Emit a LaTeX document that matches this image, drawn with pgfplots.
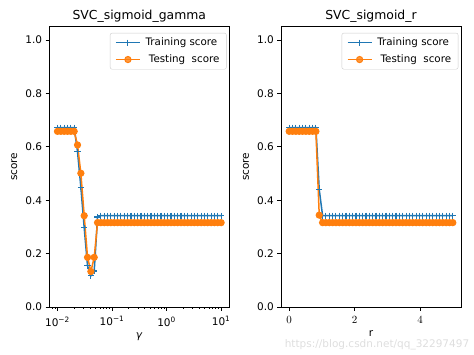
\documentclass[border=0pt]{standalone}
\usepackage{fontspec}
\setmainfont{DejaVu Sans}
\usepackage{pgfplots}
\usepackage{pgfplotstable}
\pgfplotsset{compat=1.18}
\definecolor{tabblue}{HTML}{1F77B4}
\definecolor{taborange}{HTML}{FF7F0E}

\pgfplotstableread{
x train test
0.010000 0.672 0.658
0.011514 0.672 0.658
0.013257 0.672 0.658
0.015264 0.672 0.658
0.017575 0.672 0.658
0.020236 0.672 0.658
0.023300 0.582 0.607
0.026827 0.449 0.501
0.030888 0.297 0.342
0.035565 0.154 0.186
0.040949 0.117 0.133
0.047149 0.135 0.186
0.054287 0.337 0.316
0.062506 0.342 0.316
0.071969 0.342 0.316
0.082864 0.342 0.316
0.095410 0.342 0.316
0.109854 0.342 0.316
0.126486 0.342 0.316
0.145635 0.342 0.316
0.167683 0.342 0.316
0.193070 0.342 0.316
0.222300 0.342 0.316
0.255955 0.342 0.316
0.294705 0.342 0.316
0.339322 0.342 0.316
0.390694 0.342 0.316
0.449843 0.342 0.316
0.517947 0.342 0.316
0.596362 0.342 0.316
0.686649 0.342 0.316
0.790604 0.342 0.316
0.910298 0.342 0.316
1.048113 0.342 0.316
1.206793 0.342 0.316
1.389495 0.342 0.316
1.599859 0.342 0.316
1.842070 0.342 0.316
2.120951 0.342 0.316
2.442053 0.342 0.316
2.811769 0.342 0.316
3.237458 0.342 0.316
3.727594 0.342 0.316
4.291934 0.342 0.316
4.941713 0.342 0.316
5.689866 0.342 0.316
6.551286 0.342 0.316
7.543120 0.342 0.316
8.685114 0.342 0.316
10.000000 0.342 0.316
}\gammadata

\pgfplotstableread{
x train test
0.00000 0.672 0.658
0.10204 0.672 0.658
0.20408 0.672 0.658
0.30612 0.672 0.658
0.40816 0.672 0.658
0.51020 0.672 0.658
0.61224 0.672 0.658
0.71429 0.672 0.658
0.81633 0.672 0.658
0.91837 0.440 0.344
1.02041 0.342 0.316
1.12245 0.342 0.316
1.22449 0.342 0.316
1.32653 0.342 0.316
1.42857 0.342 0.316
1.53061 0.342 0.316
1.63265 0.342 0.316
1.73469 0.342 0.316
1.83673 0.342 0.316
1.93878 0.342 0.316
2.04082 0.342 0.316
2.14286 0.342 0.316
2.24490 0.342 0.316
2.34694 0.342 0.316
2.44898 0.342 0.316
2.55102 0.342 0.316
2.65306 0.342 0.316
2.75510 0.342 0.316
2.85714 0.342 0.316
2.95918 0.342 0.316
3.06122 0.342 0.316
3.16327 0.342 0.316
3.26531 0.342 0.316
3.36735 0.342 0.316
3.46939 0.342 0.316
3.57143 0.342 0.316
3.67347 0.342 0.316
3.77551 0.342 0.316
3.87755 0.342 0.316
3.97959 0.342 0.316
4.08163 0.342 0.316
4.18367 0.342 0.316
4.28571 0.342 0.316
4.38776 0.342 0.316
4.48980 0.342 0.316
4.59184 0.342 0.316
4.69388 0.342 0.316
4.79592 0.342 0.316
4.89796 0.342 0.316
5.00000 0.342 0.316
}\rdata

\pgfplotsset{
  mystyle/.style={
    scale only axis, width=180pt, height=280.3pt, anchor=south west,
    ymin=0, ymax=1.05,
    ytick={0,0.2,0.4,0.6,0.8,1.0},
    y tick label style={/pgf/number format/.cd, fixed, fixed zerofill, precision=1, assume math mode=true},
    tick align=outside, tick pos=left,
    major tick length=3.6pt, minor tick length=2pt,
    every tick/.style={black, line width=0.8pt},
    axis line style={line width=0.8pt},
    tick label style={font=\fontsize{10.5}{12}\selectfont},
    x tick label style={yshift=-2.5pt},
    label style={font=\fontsize{10.5}{12}\selectfont},
    every axis title/.style={font=\fontsize{12.4}{14}\selectfont, at={(0.5,1.026)}, anchor=base},
    ylabel={score},
    ylabel style={at={(axis description cs:-0.195,0.5)}, anchor=center},
    legend style={at={(0.985,0.978)}, anchor=north east, draw=black!20,
      rounded corners=2pt, fill=white, fill opacity=0.8, text opacity=1,
      font=\fontsize{10.3}{12}\selectfont, inner xsep=5pt, inner ysep=3pt,
      row sep=3.5pt, /tikz/every odd column/.append style={column sep=3pt}},
    legend cell align=left,
    legend image code/.code={\draw[mark repeat=2,mark phase=2] plot coordinates {(0pt,0pt) (12pt,0pt) (24pt,0pt)};},
    trainstyle/.style={color=tabblue, line width=1.5pt, mark=+, mark size=3.1pt, mark options={solid, line width=1.1pt}},
    teststyle/.style={color=taborange, line width=1.5pt, mark=*, mark size=3.1pt, mark options={solid, line width=1pt, fill=taborange, draw=taborange}},
  }
}

\begin{document}
\begin{tikzpicture}
\useasboundingbox (0,0) rectangle (474pt,355pt);
\begin{axis}[mystyle, at={(49.3pt,48pt)},
  xmode=log, xmin=0.0070795, xmax=14.1254,
  xtick={0.01,0.1,1,10},
  xticklabels={10\textsuperscript{−2},10\textsuperscript{−1},10\textsuperscript{0},10\textsuperscript{1}},
  minor xtick={0.008,0.009,0.02,0.03,0.04,0.05,0.06,0.07,0.08,0.09,0.2,0.3,0.4,0.5,0.6,0.7,0.8,0.9,2,3,4,5,6,7,8,9},
  title={SVC\_sigmoid\_gamma},
  xlabel={\textit{γ}},
  xlabel style={at={(axis description cs:0.5,-0.107)}, anchor=center},
]
\addplot[trainstyle] table[x=x,y=train]{\gammadata};
\addlegendentry{Training score}
\addplot[teststyle] table[x=x,y=test]{\gammadata};
\addlegendentry{\hspace*{3.3pt}Testing\ \ score}
\end{axis}
\begin{axis}[mystyle, at={(281pt,48pt)},
  xmin=-0.25, xmax=5.25,
  xtick={0,2,4},
  title={SVC\_sigmoid\_r},
  xlabel={r},
  xlabel style={at={(axis description cs:0.5,-0.094)}, anchor=center},
]
\addplot[trainstyle] table[x=x,y=train]{\rdata};
\addlegendentry{Training score}
\addplot[teststyle] table[x=x,y=test]{\rdata};
\addlegendentry{\hspace*{3.3pt}Testing\ \ score}
\end{axis}
\node[text=black!13, font=\fontsize{10.5}{12}\selectfont, anchor=center] at (377pt,10pt) {https://blog.csdn.net/qq\_32297497};
\end{tikzpicture}
\end{document}
